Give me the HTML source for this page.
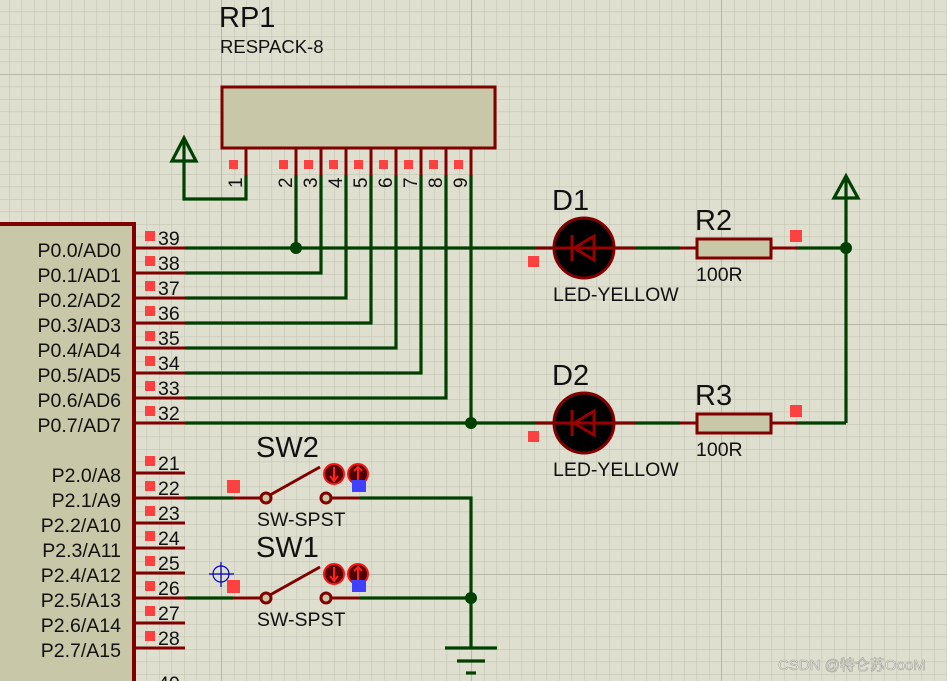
<!DOCTYPE html>
<html><head><meta charset="utf-8"><style>
html,body{margin:0;padding:0;background:#dfdfd0;}
svg{display:block}
text{font-family:"Liberation Sans",Arial,sans-serif;fill:#111;}
</style></head><body>
<svg width="947" height="681" viewBox="0 0 947 681" xmlns="http://www.w3.org/2000/svg">
<defs>
<pattern id="mn" x="9" y="11.5" width="12.5" height="12.5" patternUnits="userSpaceOnUse">
<path d="M0 0H12.5M0 0V12.5" stroke="#c5c5b5" stroke-width="1.2" fill="none"/>
</pattern>
<pattern id="mj" x="221" y="74" width="250" height="250" patternUnits="userSpaceOnUse">
<path d="M0 0H250M0 0V250" stroke="#b8b8a6" stroke-width="2" fill="none"/>
</pattern>
</defs>
<rect width="947" height="681" fill="#dfdfd0"/>
<rect width="947" height="681" fill="url(#mn)"/>
<rect width="947" height="681" fill="url(#mj)"/>

<!-- RP1 -->
<text x="219" y="27" font-size="29">RP1</text>
<text x="220" y="53" font-size="18.5">RESPACK-8</text>
<rect x="222" y="87" width="273" height="61" fill="#c8c8a8" stroke="#800000" stroke-width="3"/>
<g stroke="#800000" stroke-width="3">
<line x1="246" y1="148" x2="246" y2="175"/>
<line x1="296" y1="148" x2="296" y2="175"/><line x1="321" y1="148" x2="321" y2="175"/>
<line x1="346" y1="148" x2="346" y2="175"/><line x1="371" y1="148" x2="371" y2="175"/>
<line x1="396" y1="148" x2="396" y2="175"/><line x1="421" y1="148" x2="421" y2="175"/>
<line x1="446" y1="148" x2="446" y2="175"/><line x1="471" y1="148" x2="471" y2="175"/>
</g>
<g fill="#ff4040">
<rect x="229" y="160" width="9" height="9"/><rect x="279" y="160" width="9" height="9"/>
<rect x="304" y="160" width="9" height="9"/><rect x="329" y="160" width="9" height="9"/>
<rect x="354" y="160" width="9" height="9"/><rect x="379" y="160" width="9" height="9"/>
<rect x="404" y="160" width="9" height="9"/><rect x="429" y="160" width="9" height="9"/>
<rect x="454" y="160" width="9" height="9"/>
</g>
<g font-size="19">
<text transform="translate(242,188) rotate(-90)">1</text>
<text transform="translate(292,188) rotate(-90)">2</text>
<text transform="translate(317,188) rotate(-90)">3</text>
<text transform="translate(342,188) rotate(-90)">4</text>
<text transform="translate(367,188) rotate(-90)">5</text>
<text transform="translate(392,188) rotate(-90)">6</text>
<text transform="translate(417,188) rotate(-90)">7</text>
<text transform="translate(442,188) rotate(-90)">8</text>
<text transform="translate(467,188) rotate(-90)">9</text>
</g>

<!-- green wires -->
<g stroke="#004000" stroke-width="3.2" fill="none">
<polyline points="246,175 246,199 184,199 184,140"/>
<polygon points="184,138 172,161 196,161"/>
<line x1="296" y1="175" x2="296" y2="248"/>
<polyline points="321,175 321,273 185,273"/>
<polyline points="346,175 346,298 185,298"/>
<polyline points="371,175 371,323 185,323"/>
<polyline points="396,175 396,348 185,348"/>
<polyline points="421,175 421,373 185,373"/>
<polyline points="446,175 446,398 185,398"/>
<line x1="471" y1="175" x2="471" y2="423"/>
<line x1="185" y1="248" x2="555" y2="248"/>
<line x1="185" y1="423" x2="555" y2="423"/>
<line x1="613" y1="248" x2="680" y2="248"/>
<line x1="613" y1="423" x2="680" y2="423"/>
<line x1="795" y1="248" x2="846" y2="248"/>
<line x1="795" y1="423" x2="846" y2="423"/>
<line x1="846" y1="176" x2="846" y2="423"/>
<polygon points="846,176 834,198 858,198"/>
<line x1="185" y1="498" x2="233" y2="498"/>
<line x1="185" y1="598" x2="233" y2="598"/>
<polyline points="360,498 471,498 471,648"/>
<line x1="360" y1="598" x2="471" y2="598"/>
<line x1="445" y1="648" x2="497" y2="648"/>
<line x1="457" y1="661" x2="485" y2="661"/>
<line x1="466" y1="673" x2="476" y2="673"/>
</g>
<g fill="#004000">
<circle cx="296" cy="248" r="6"/><circle cx="471" cy="423" r="6"/>
<circle cx="846" cy="248" r="6"/><circle cx="471" cy="598" r="6"/>
</g>

<!-- MCU -->
<rect x="-10" y="224" width="144" height="470" fill="#c8c8a8" stroke="#800000" stroke-width="4"/>
<g stroke="#800000" stroke-width="3">
<line x1="134" y1="248" x2="185" y2="248"/><line x1="134" y1="273" x2="185" y2="273"/>
<line x1="134" y1="298" x2="185" y2="298"/><line x1="134" y1="323" x2="185" y2="323"/>
<line x1="134" y1="348" x2="185" y2="348"/><line x1="134" y1="373" x2="185" y2="373"/>
<line x1="134" y1="398" x2="185" y2="398"/><line x1="134" y1="423" x2="185" y2="423"/>
<line x1="134" y1="473" x2="185" y2="473"/><line x1="134" y1="498" x2="185" y2="498"/>
<line x1="134" y1="523" x2="185" y2="523"/><line x1="134" y1="548" x2="185" y2="548"/>
<line x1="134" y1="573" x2="185" y2="573"/><line x1="134" y1="598" x2="185" y2="598"/>
<line x1="134" y1="623" x2="185" y2="623"/><line x1="134" y1="648" x2="185" y2="648"/>
</g>
<g fill="#ff4040">
<rect x="145" y="231" width="10" height="10"/><rect x="145" y="256" width="10" height="10"/>
<rect x="145" y="281" width="10" height="10"/><rect x="145" y="306" width="10" height="10"/>
<rect x="145" y="331" width="10" height="10"/><rect x="145" y="356" width="10" height="10"/>
<rect x="145" y="381" width="10" height="10"/><rect x="145" y="406" width="10" height="10"/>
<rect x="145" y="456" width="10" height="10"/><rect x="145" y="481" width="10" height="10"/>
<rect x="145" y="506" width="10" height="10"/><rect x="145" y="531" width="10" height="10"/>
<rect x="145" y="556" width="10" height="10"/><rect x="145" y="581" width="10" height="10"/>
<rect x="145" y="606" width="10" height="10"/><rect x="145" y="631" width="10" height="10"/>
</g>
<g font-size="19.5">
<text x="158" y="245">39</text><text x="158" y="270">38</text><text x="158" y="295">37</text>
<text x="158" y="320">36</text><text x="158" y="345">35</text><text x="158" y="370">34</text>
<text x="158" y="395">33</text><text x="158" y="420">32</text>
<text x="158" y="470">21</text><text x="158" y="495">22</text><text x="158" y="520">23</text>
<text x="158" y="545">24</text><text x="158" y="570">25</text><text x="158" y="595">26</text>
<text x="158" y="620">27</text><text x="158" y="645">28</text>
<text x="158" y="690">40</text>
</g>
<g font-size="19.5" text-anchor="end">
<text x="121" y="257">P0.0/AD0</text><text x="121" y="282">P0.1/AD1</text>
<text x="121" y="307">P0.2/AD2</text><text x="121" y="332">P0.3/AD3</text>
<text x="121" y="357">P0.4/AD4</text><text x="121" y="382">P0.5/AD5</text>
<text x="121" y="407">P0.6/AD6</text><text x="121" y="432">P0.7/AD7</text>
<text x="121" y="482">P2.0/A8</text><text x="121" y="507">P2.1/A9</text>
<text x="121" y="532">P2.2/A10</text><text x="121" y="557">P2.3/A11</text>
<text x="121" y="582">P2.4/A12</text><text x="121" y="607">P2.5/A13</text>
<text x="121" y="632">P2.6/A14</text><text x="121" y="657">P2.7/A15</text>
</g>

<!-- LEDs and resistors -->
<g id="row1">
<g stroke="#800000" stroke-width="3">
<line x1="535" y1="248" x2="555" y2="248"/><line x1="613" y1="248" x2="635" y2="248"/>
<line x1="680" y1="248" x2="697" y2="248"/><line x1="771" y1="248" x2="797" y2="248"/>
</g>
<circle cx="584" cy="248" r="30" fill="#000" stroke="#800000" stroke-width="3"/>
<g stroke="#9a0000" stroke-width="3" fill="none">
<line x1="555" y1="248" x2="613" y2="248"/>
<polygon points="574,248 594,236 594,260"/>
<line x1="572" y1="235" x2="572" y2="261"/>
</g>
<rect x="697" y="239" width="74" height="19" fill="#c8c8a8" stroke="#800000" stroke-width="3"/>
<rect x="528" y="256" width="11" height="11" fill="#ff4040"/>
<rect x="790" y="230" width="12" height="12" fill="#ff4040"/>
</g>
<use href="#row1" y="175"/>
<text x="552" y="210" font-size="29">D1</text>
<text x="553" y="301" font-size="19.5">LED-YELLOW</text>
<text x="695" y="230" font-size="29">R2</text>
<text x="696" y="281" font-size="19.5">100R</text>
<text x="552" y="385" font-size="29">D2</text>
<text x="553" y="476" font-size="19.5">LED-YELLOW</text>
<text x="695" y="405" font-size="29">R3</text>
<text x="696" y="456" font-size="19.5">100R</text>

<!-- switches -->
<g id="sw">
<g stroke="#800000" stroke-width="3" fill="none">
<line x1="233" y1="498" x2="262" y2="498"/>
<line x1="330" y1="498" x2="360" y2="498"/>
<line x1="270" y1="495" x2="320" y2="467"/>
<circle cx="266" cy="498" r="5" fill="#c8c8a8"/>
<circle cx="326" cy="498" r="5" fill="#c8c8a8"/>
</g>
<circle cx="334" cy="474" r="10" fill="#500000" stroke="#ff1010" stroke-width="2"/>
<circle cx="358" cy="474" r="10" fill="#500000" stroke="#ff1010" stroke-width="2"/>
<path d="M334 467V480M330 476L334 481L338 476" stroke="#ff2020" stroke-width="2" fill="none"/>
<path d="M358 481V468M354 471L358 467L362 471" stroke="#ff2020" stroke-width="2" fill="none"/>
<rect x="352" y="480" width="14" height="12" fill="#4040ff"/>
<rect x="227" y="480" width="13" height="13" fill="#ff4040"/>
</g>
<use href="#sw" y="100"/>
<text x="256" y="457" font-size="29">SW2</text>
<text x="257" y="526" font-size="19.5">SW-SPST</text>
<text x="256" y="557" font-size="29">SW1</text>
<text x="257" y="626" font-size="19.5">SW-SPST</text>
<g stroke="#0000c0" stroke-width="1.2" fill="none">
<circle cx="221" cy="574" r="8"/><line x1="209" y1="574" x2="234" y2="574"/><line x1="221" y1="562" x2="221" y2="587"/>
</g>

<text x="778" y="670" font-size="15" style="fill:#f4f4f0;font-family:'Liberation Sans','Noto Sans CJK SC',sans-serif" stroke="#a0a098" stroke-width="0.6">CSDN @特仑苏OooM</text>
</svg>
</body></html>
